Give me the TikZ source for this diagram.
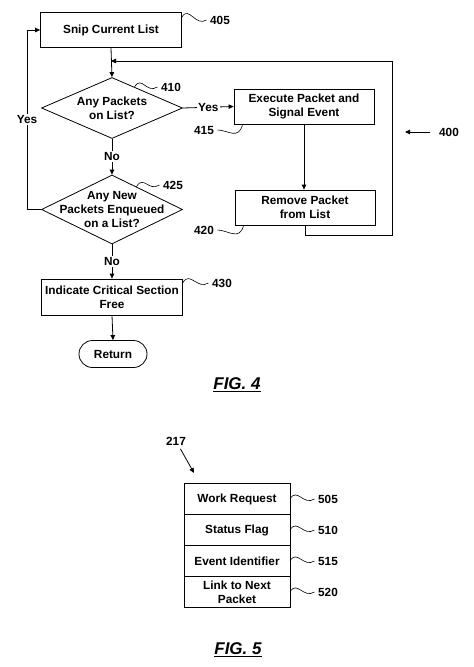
\documentclass[tikz,border=0pt]{standalone}
\usepackage{fontspec}
\setmainfont{Liberation Sans}
\usetikzlibrary{shapes.geometric,shapes.misc,arrows.meta,positioning}

\begin{document}
\begin{tikzpicture}[x=1pt,y=-1pt,line width=0.8pt,
  font=\fontsize{11.8}{14}\selectfont\bfseries,
  >={Triangle[length=5pt,width=4.5pt]},
  box/.style={draw,minimum width=141pt,minimum height=35pt,align=center,inner sep=2pt},
  decision/.style={draw,diamond,minimum width=141pt,minimum height=61pt,inner sep=0pt},
  yesno/.style={fill=white,inner sep=1.5pt},
  lead/.style={line width=0.6pt},
  cell/.style={draw,minimum width=106pt,minimum height=31pt,outer sep=0pt,align=center,inner sep=1pt},
  fig/.style={font=\fontsize{17}{20}\selectfont\bfseries\itshape}]

\useasboundingbox (0,0) rectangle (474,667);

% FIG. 4 flow chart
\node[box] (snip) at (111,30) {Snip Current List};
\node[decision,label={[align=center]center:Any Packets\\on List?}] (d410) at (112,108) {};
\node[box,minimum width=140pt] (exec) at (304,106.5) {Execute Packet and\\Signal Event};
\node[box,minimum width=140pt] (remove) at (305,207.5) {Remove Packet\\from List};
\node[decision,minimum height=69pt,label={[align=center]center:Any New\\Packets Enqueued\\on a List?}] (d425) at (112,209.5) {};
\node[box,minimum height=36pt] (crit) at (112,297) {Indicate Critical Section\\Free};
\node[draw,rounded rectangle,minimum width=70pt,minimum height=27pt,inner sep=1pt] (ret) at (113,354) {Return};

% Connectors
\draw[->] (snip.south) -- (d410.north);
\draw[->] (d410.east) -- node[yesno] {Yes} (exec.west);
\draw[->] (exec.south) -- (exec.south |- remove.north);
\coordinate (loopR) at (392,61);
\draw[->] (remove.south) -- ++(0,10) -| (loopR) -- (loopR -| snip.south);
\draw[->] (d410.south) -- node[yesno] {No} (d425.north);
\draw[->] (d425.west) -- ++(-14,0) |- node[yesno,pos=0.25] {Yes} (snip.west);
\draw[->] (d425.south) -- node[yesno] {No} (crit.north);
\draw[->] (crit.south) -- (ret.north);

% Reference numerals
\node (l405) at (220,20) {405};
\node (l410) at (171,87) {410};
\node (l415) at (204,130) {415};
\node (l420) at (204,230) {420};
\node (l425) at (173,185) {425};
\node (l430) at (222,283) {430};
\node (l400) at (449,132) {400};
\coordinate (p400) at (405,132);

\draw[lead] ([yshift=-5pt]snip.north east) .. controls +(7,-12) and +(-11,7) .. (l405.west);
\draw[lead] (d410.43) .. controls +(7,-12) and +(-11,7) .. (l410.west);
\draw[lead] (d425.43) .. controls +(7,-12) and +(-11,7) .. (l425.west);
\draw[lead] ([yshift=-4pt]crit.north east) .. controls +(7,-12) and +(-11,7) .. (l430.west);
\draw[lead] (l415.east) .. controls +(10,0) and +(-4,16) .. ([xshift=9pt]exec.south west);
\draw[lead] (l420.east) .. controls +(10,0) and +(-4,16) .. ([xshift=9pt]remove.south west);
\draw[->,shorten <=5pt] (l400) -- (p400);

\node[fig] (fig4) at (237,385) {\underline{FIG. 4}};

% FIG. 5 packet layout
\node[cell] (c505) at (237,499) {Work Request};
\node[cell,below=0pt of c505] (c510) {Status Flag};
\node[cell,below=0pt of c510] (c515) {Event Identifier};
\node[cell,below=0pt of c515] (c520) {Link to Next\\Packet};

\node (l217) at (176,441) {217};
\coordinate (p217) at (194,473);
\draw[->] (l217) -- (p217);

\node (l505) at (328,499) {505};
\node (l510) at (328,530) {510};
\node (l515) at (328,561) {515};
\node (l520) at (328,592) {520};
\foreach \n in {505,510,515,520}
  \draw[lead] (c\n.east) .. controls +(7,-12) and +(-11,7) .. (l\n.west);

\node[fig] (fig5) at (238,650) {\underline{FIG. 5}};

\end{tikzpicture}
\end{document}
